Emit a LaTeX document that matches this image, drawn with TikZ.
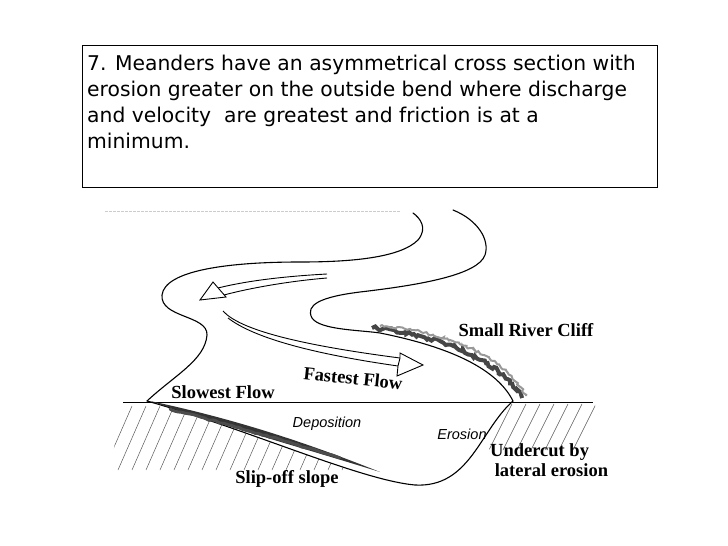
\documentclass[tikz,border=0pt]{standalone}
\usepackage{fontspec}
\setmainfont{Liberation Serif}
\newfontfamily\boxfont{DejaVu Sans}
\newfontfamily\labsans{Liberation Sans}
\usetikzlibrary{decorations.pathmorphing}
\begin{document}
\begin{tikzpicture}[x=1pt,y=-1pt,
  bank/.style={line width=1.1pt,line cap=round},
  lab/.style={font=\fontsize{18.5}{20}\selectfont\bfseries,inner sep=0pt},
  itl/.style={font=\labsans\fontsize{14.5}{16}\selectfont\itshape,inner sep=0pt},
  hatch/.style={line width=0.5pt,gray!70!black}]
\useasboundingbox (0,0) rectangle (728,546);
\node[draw,line width=0.6pt,minimum width=575pt,minimum height=142pt,anchor=north west] (box) at (82,45) {};
\node[anchor=north west,align=left,inner sep=0pt,font=\boxfont\fontsize{20.3}{26}\selectfont] (txt) at (87,55)
 {7. Meanders have an asymmetrical cross section with\\erosion greater on the outside bend where discharge\\and velocity\ \ are greatest and friction is at a\\minimum.};
% faint top line
\draw[gray!40,line width=0.8pt,dash pattern=on 3pt off 1pt] (105,211) -- (400,211);
% outer left bank
\draw[bank] (147,401) .. controls (175,375) and (205,360) .. (207,335)
  .. controls (208,315) and (160,318) .. (162,295)
  .. controls (165,270) and (230,262) .. (300,262)
  .. controls (350,262) and (400,258) .. (418,240)
  .. controls (428,228) and (420,218) .. (413,213);
% inner bank
\draw[bank] (453,210) .. controls (478,220) and (490,240) .. (485,255)
  .. controls (478,275) and (420,285) .. (360,292)
  .. controls (320,297) and (305,305) .. (312,318)
  .. controls (320,330) and (360,330) .. (380,333)
  .. controls (440,345) and (495,365) .. (513,401);
% cliff shading
\draw[gray!55!black,line width=4pt,decorate,decoration={random steps,segment length=2.5pt,amplitude=1.8pt}]
  (372,328) .. controls (432,333) and (500,358) .. (522,398);
\draw[gray!80,line width=2pt,decorate,decoration={random steps,segment length=2pt,amplitude=1.2pt}]
  (380,326) .. controls (440,330) and (505,355) .. (526,396);
% slowest-flow arrow (hollow)
\draw[line width=0.9pt] (327,274) .. controls (290,276) and (250,280) .. (218,288);
\draw[line width=0.9pt] (327,278) .. controls (290,281) and (250,288) .. (224,295);
\draw[line width=0.9pt,fill=white] (213,282) -- (200,300) -- (226,297) -- cycle;
% fastest-flow arrow (hollow)
\draw[line width=0.9pt] (223,311) .. controls (240,330) and (300,345) .. (400,358);
\draw[line width=0.9pt] (228,318) .. controls (250,335) and (300,352) .. (398,366);
\draw[line width=0.9pt,fill=white] (400,353) -- (423,365) -- (397,376) -- (398,366) -- (400,358) -- cycle;
% hatching
\begin{scope}
\clip (123,402) -- (147,401) .. controls (250,430) and (360,480) .. (415,485) -- (400,520) -- (100,520) -- cycle;
\foreach \x in {128,142,...,400} {\draw[hatch] (\x-24,470) -- (\x+4,406);}
\end{scope}
\begin{scope}
\clip (513,401) -- (595,401) -- (595,450) -- (490,450) -- (480,440) .. controls (490,425) and (500,410) .. (513,401);
\foreach \x in {510,524,...,604} {\draw[hatch] (\x-22,452) -- (\x+2,404);}
\end{scope}
\draw[line width=1pt] (123,402) -- (593,402);
\draw[bank] (147,401) .. controls (250,430) and (360,480) .. (415,485)
  .. controls (470,488) and (480,430) .. (513,401);
% deposition band
\fill[black!80] (150,401) .. controls (230,418) and (300,440) .. (380,472)
  .. controls (300,447) and (230,428) .. (150,401) -- cycle;
\draw[line width=3pt,black!70,line cap=round,decorate,decoration={random steps,segment length=4pt,amplitude=0.8pt}] (170,409) .. controls (230,425) and (290,442) .. (340,458);
% labels
\node[lab] (slow) at (223,392) {Slowest Flow};
\node[lab,rotate=-6] (fast) at (353,378) {Fastest Flow};
\node[lab] (cliff) at (526,330) {Small River Cliff};
\node[itl] (dep) at (327,424) {Deposition};
\node[itl] (ero) at (462,434) {Erosion};
\node[lab,align=left,anchor=north west,font=\fontsize{18.5}{20}\selectfont\bfseries] (under) at (490,443) {Undercut by\\\ lateral erosion};
\node[lab] (slip) at (287,479) {Slip-off slope};
\end{tikzpicture}
\end{document}
